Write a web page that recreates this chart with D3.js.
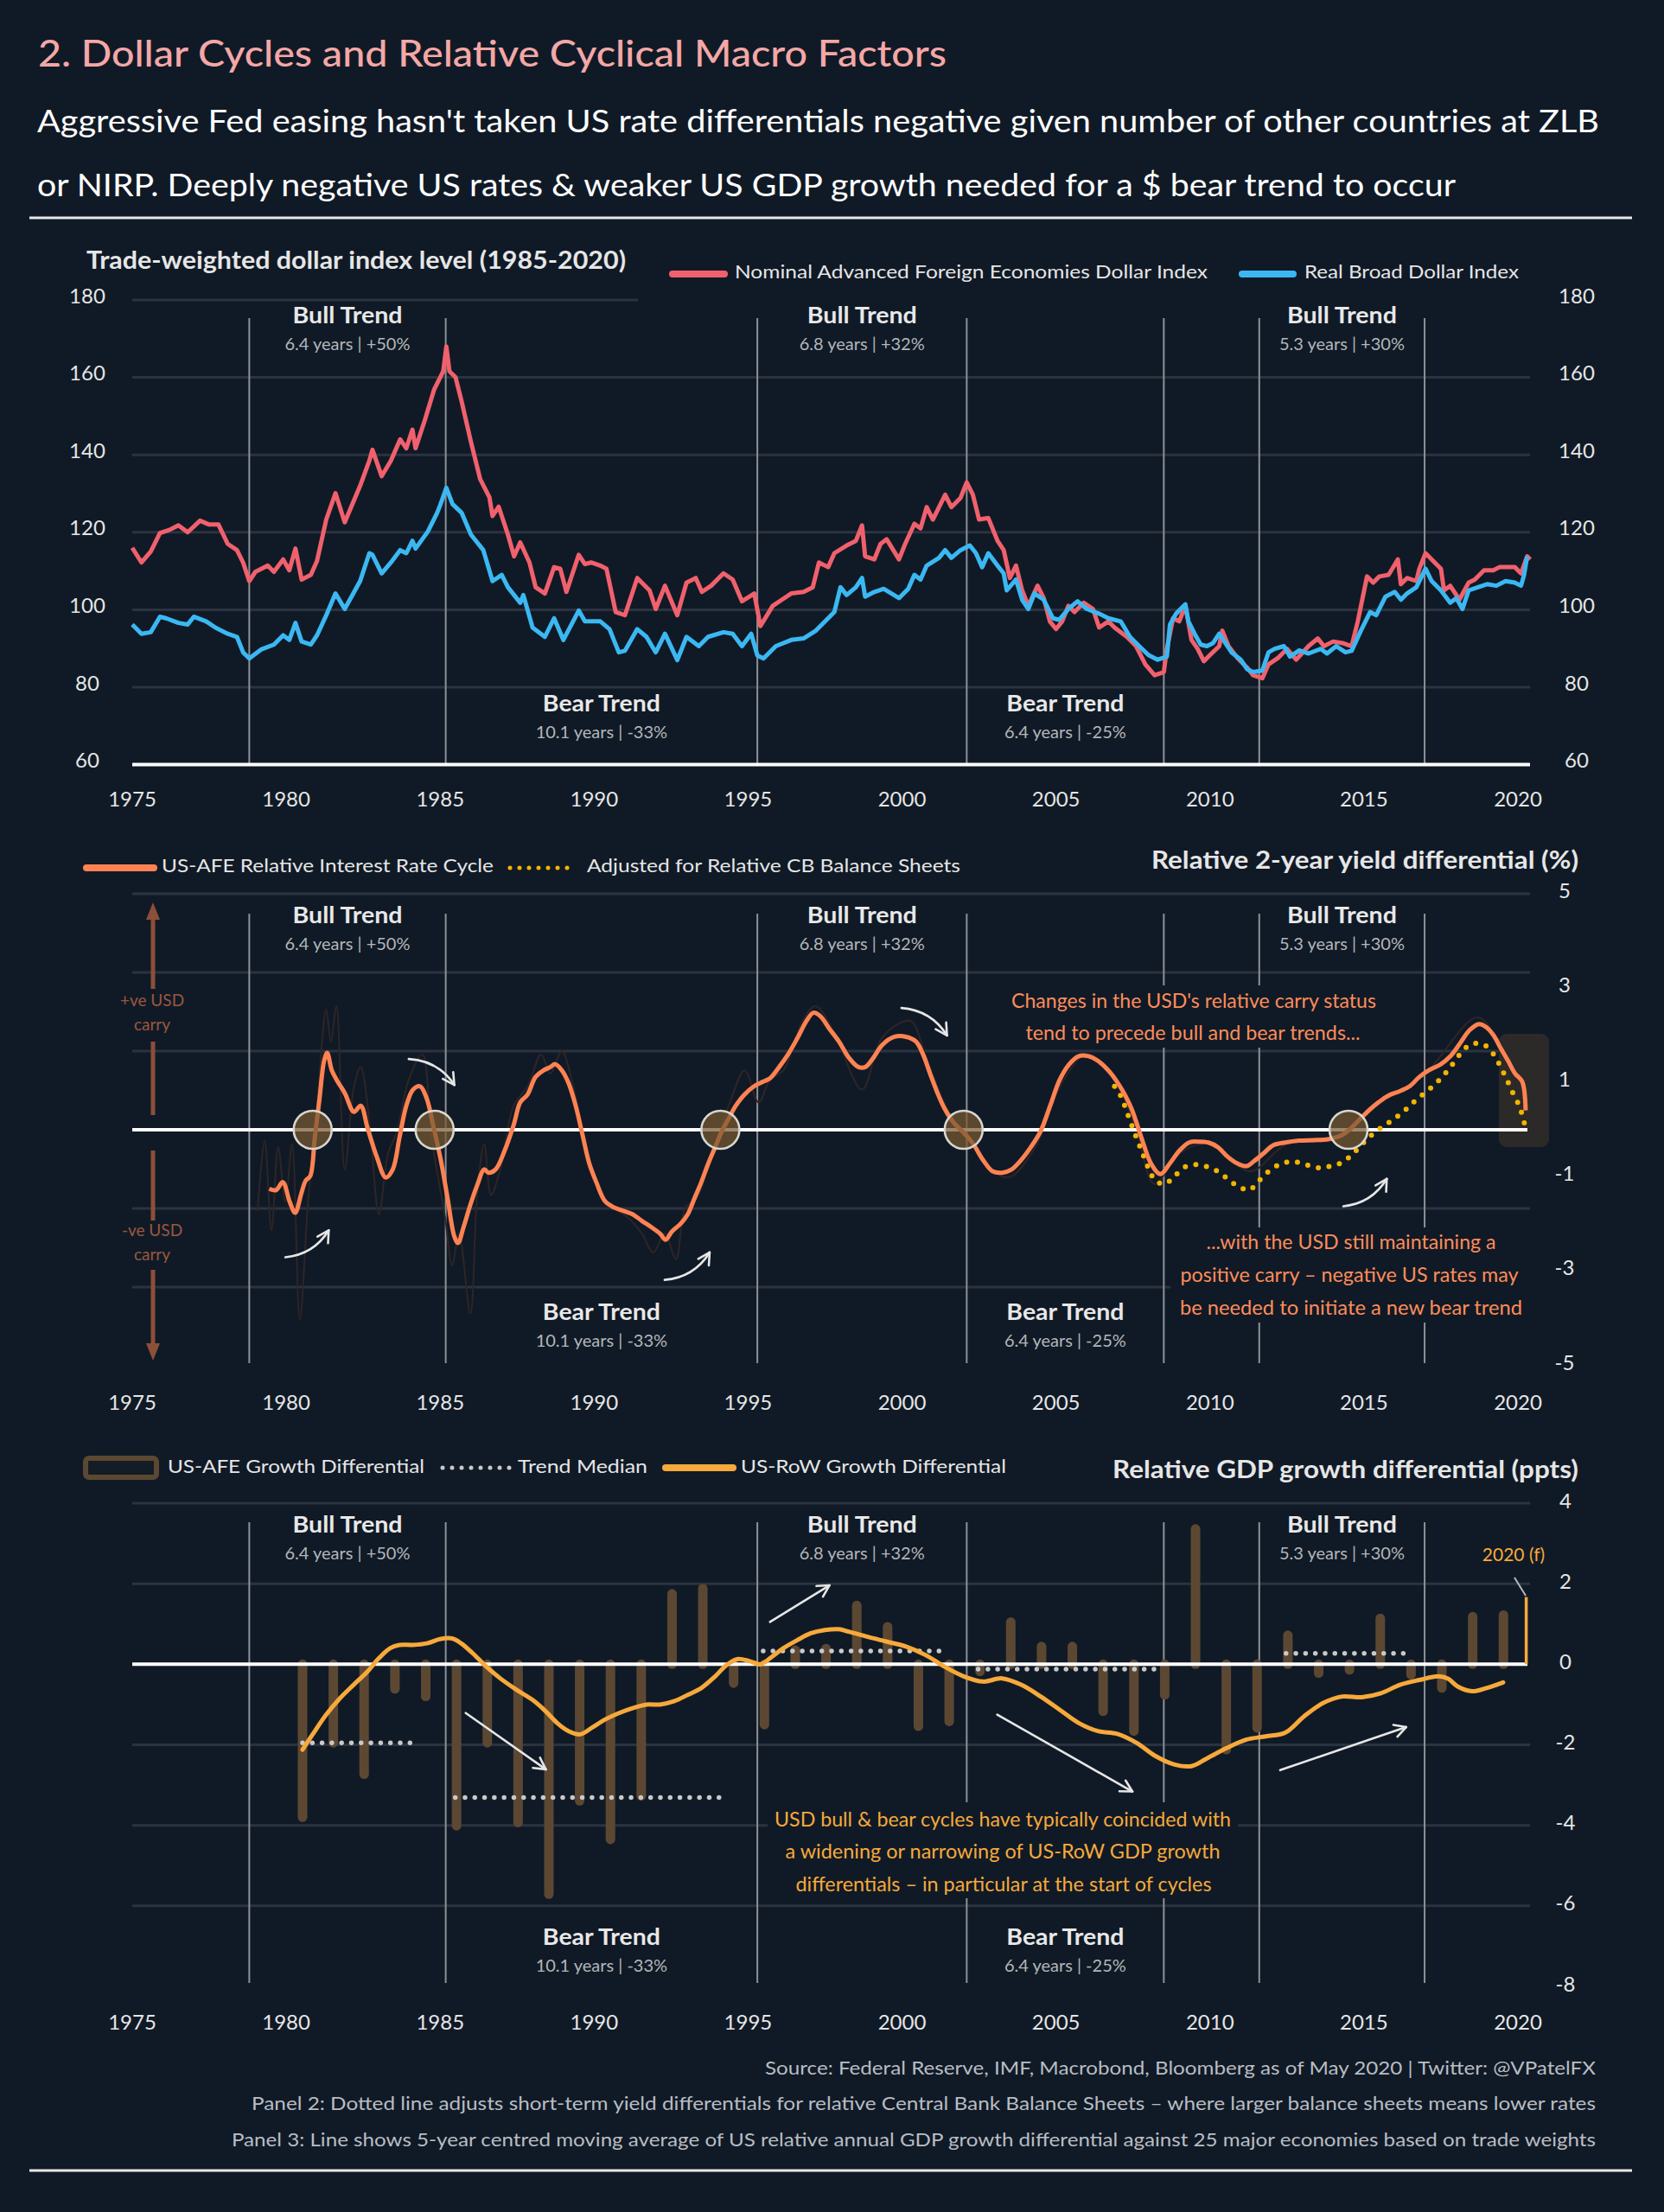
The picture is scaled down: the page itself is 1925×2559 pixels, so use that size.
<!DOCTYPE html>
<html><head><meta charset="utf-8">
<script src="https://cdn.jsdelivr.net/npm/d3@7"></script>
<style>body{margin:0;background:#101a26}</style>
</head><body><svg id="c" width="1925" height="2559"></svg>
<script>
// ---------- DATA ----------
const years = [1975,1980,1985,1990,1995,2000,2005,2010,2015,2020];
const p1Ticks = [180,160,140,120,100,80,60];
const p2Ticks = [5,3,1,-1,-3,-5];
const p3Ticks = [4,2,0,-2,-4,-6,-8];

const cycleDates = [1978.8,1985.18,1995.3,2002.1,2008.5,2011.6,2016.97];
const cycleNames = ["Bull Trend","Bear Trend","Bull Trend","Bear Trend","Bull Trend"];
const cycleStats = ["6.4 years | +50%","10.1 years | -33%","6.8 years | +32%","6.4 years | -25%","5.3 years | +30%"];
const cycleStart = [1978.8,1985.18,1995.3,2002.1,2011.6];
const cycleEnd   = [1985.18,1995.3,2002.1,2008.5,2016.97];

// Panel 1: Nominal AFE dollar index
const nomT = [1975.0,1975.3,1975.6,1975.9,1976.2,1976.5,1976.8,1977.2,1977.5,1977.8,1978.1,1978.4,1978.6,1978.8,1979.0,1979.4,1979.6,1979.9,1980.1,1980.3,1980.5,1980.8,1981.0,1981.3,1981.6,1981.9,1982.4,1982.7,1982.8,1983.1,1983.4,1983.7,1983.9,1984.1,1984.2,1984.5,1984.8,1985.1,1985.2,1985.3,1985.5,1985.7,1986.0,1986.3,1986.6,1986.7,1986.9,1987.2,1987.4,1987.6,1987.9,1988.1,1988.4,1988.7,1988.9,1989.1,1989.5,1989.7,1989.9,1990.2,1990.4,1990.7,1991.0,1991.4,1991.8,1992.0,1992.3,1992.7,1993.0,1993.3,1993.5,1993.8,1994.2,1994.5,1994.8,1995.2,1995.4,1995.8,1996.1,1996.4,1996.8,1997.1,1997.3,1997.6,1997.8,1998.2,1998.5,1998.7,1998.8,1999.1,1999.3,1999.5,1999.9,2000.1,2000.4,2000.6,2000.8,2001.0,2001.4,2001.6,2001.9,2002.1,2002.3,2002.5,2002.8,2003.1,2003.3,2003.5,2003.7,2003.9,2004.1,2004.4,2004.6,2004.8,2005.0,2005.2,2005.4,2005.6,2005.9,2006.2,2006.4,2006.7,2006.9,2007.3,2007.6,2007.9,2008.2,2008.5,2008.6,2008.8,2009.0,2009.2,2009.4,2009.6,2009.8,2010.0,2010.3,2010.4,2010.6,2010.9,2011.2,2011.4,2011.7,2011.9,2012.2,2012.5,2012.8,2013.2,2013.5,2013.7,2014.0,2014.3,2014.6,2014.8,2015.1,2015.3,2015.5,2015.8,2016.1,2016.2,2016.4,2016.7,2016.8,2017.0,2017.2,2017.5,2017.6,2017.8,2018.1,2018.4,2018.6,2018.9,2019.2,2019.4,2019.6,2019.9,2020.1,2020.3,2020.4];
const nomV = [116,112.2,115,119.8,120.6,121.8,120,123,122,122,117,115.4,112.2,107.4,109.8,111.4,109.8,113,110.2,115.8,107.8,109,112.6,123.3,130.1,122.6,132,138.5,141.3,134.5,138.5,144,141.7,146.5,141.7,148.9,156.8,161.6,168,161.6,160,153.7,143.3,133.7,129,124.2,126.6,119.4,113.8,117.4,112.2,105.8,104.2,111,110.6,104.6,114.2,111.8,112.2,111.4,110.6,99.4,98.6,108.2,105,100.2,106.2,98.6,107,108.2,104.6,106.2,109.4,107.8,102.2,104.2,95.8,101,102.6,104.2,104.6,105.8,112.2,111,114.6,116.6,117.8,121.8,113.8,113,117,118.2,113,117,122.2,121,126.5,123.3,129.7,126.5,128.9,132.9,129.7,123.3,123.7,117.8,115.4,108.2,111.4,105,101,106.2,103,97,95,97,101,99.4,101.8,100.2,95.4,97,95.4,93,90.6,85.9,83.1,83.9,89.9,97.8,97,101,92.2,89.9,86.7,88.3,90.6,94.6,90.6,87.5,85.1,83.1,82.3,85.9,87.5,89.9,87.1,90.6,92.6,90.6,91.8,91.4,90.6,97,108.6,107,108.6,109,113,106.6,108.2,107.4,110.6,114.6,113,110.6,105,106.2,102.6,107,107.8,110.2,110.2,111,111,111,109.4,113.8,113];

// Panel 1: Real broad dollar index
const realT = [1975.0,1975.3,1975.6,1975.9,1976.1,1976.5,1976.8,1977.0,1977.4,1977.7,1978.1,1978.4,1978.6,1978.8,1979.2,1979.6,1979.9,1980.1,1980.3,1980.5,1980.8,1981.0,1981.3,1981.6,1981.9,1982.4,1982.7,1982.8,1983.1,1983.4,1983.7,1983.9,1984.1,1984.2,1984.6,1984.9,1985.0,1985.2,1985.4,1985.7,1986.0,1986.4,1986.7,1987.0,1987.2,1987.6,1987.7,1988.0,1988.4,1988.7,1989.0,1989.5,1989.7,1990.2,1990.5,1990.8,1991.0,1991.4,1991.7,1992.0,1992.3,1992.7,1993.0,1993.4,1993.7,1994.2,1994.5,1994.8,1995.1,1995.3,1995.5,1995.9,1996.4,1996.8,1997.2,1997.6,1997.8,1998.0,1998.2,1998.5,1998.7,1998.8,1999.1,1999.4,1999.9,2000.2,2000.4,2000.6,2000.8,2001.2,2001.4,2001.6,2001.9,2002.2,2002.4,2002.6,2002.8,2003.1,2003.3,2003.4,2003.7,2003.9,2004.1,2004.3,2004.6,2004.9,2005.1,2005.4,2005.7,2006.0,2006.4,2006.7,2007.1,2007.4,2007.7,2008.0,2008.3,2008.6,2008.7,2008.9,2009.2,2009.3,2009.5,2009.7,2009.9,2010.1,2010.3,2010.5,2010.7,2011.0,2011.2,2011.4,2011.7,2011.9,2012.1,2012.4,2012.6,2012.9,2013.2,2013.6,2013.8,2014.1,2014.4,2014.6,2014.9,2015.2,2015.4,2015.7,2016.0,2016.2,2016.4,2016.7,2017.0,2017.2,2017.5,2017.8,2018.0,2018.2,2018.4,2018.7,2019.0,2019.3,2019.6,2019.9,2020.1,2020.2,2020.3];
const realV = [96.2,93.8,94.2,98.2,97.8,96.6,96.2,98.2,97,95.4,93.8,93,89,87.4,89.8,91,93.4,92.2,96.6,91.8,91,93.4,98.6,104.2,100.2,107.4,114.6,114.2,109.4,112.2,115.4,114.6,117.8,115.8,120.2,125,127,131.5,127.3,125,119.4,115.4,107.4,109,105.8,101.8,103.8,95.4,93,97.8,92.2,99.8,97,97,95,89,89.4,95,93,89,93.8,87,93,90.6,93,94.2,93.8,90.6,93.8,88.2,87.4,90.6,92.2,92.6,94.6,97.8,99.4,105.8,103.8,105.8,108.2,103.4,104.6,105.4,103,105.4,109,107.8,111.4,113.4,115.4,113.4,115.4,116.6,114.6,111,114.6,111.4,109.4,105,107.8,102.6,100.2,104.2,102.6,97.8,97.4,100.2,102.2,100.2,99,97.8,97,93,90.6,88.3,87.1,87.9,96.2,99,101.4,97,93.8,91,90.6,91.4,93.8,91.4,89,87.1,84.7,83.9,84.3,89,89.9,90.6,87.9,89.5,88.7,89.9,88.7,90.6,89,89.4,94.6,99.4,98.6,103.4,104.6,102.6,104.2,105.8,110.6,107.4,105,101.8,103,100.2,105,105.8,106.6,106.2,107.4,107,106.2,109,113.8];

// Panel 2: US-AFE relative 2y yield differential (smoothed)
const rateT = [1979.45,1979.67,1979.89,1980.11,1980.29,1980.49,1980.63,1980.78,1980.93,1981.08,1981.23,1981.33,1981.48,1981.67,1981.9,1982.2,1982.42,1982.64,1982.94,1983.23,1983.46,1983.68,1983.9,1984.12,1984.35,1984.57,1984.79,1985.02,1985.24,1985.46,1985.58,1985.76,1985.98,1986.2,1986.43,1986.57,1986.8,1987.1,1987.39,1987.6,1987.84,1988.1,1988.36,1988.58,1988.73,1988.95,1989.17,1989.4,1989.62,1989.84,1990.07,1990.36,1990.66,1990.96,1991.25,1991.55,1991.85,1992.14,1992.32,1992.52,1992.81,1993.04,1993.26,1993.48,1993.71,1993.93,1994.15,1994.37,1994.6,1994.89,1995.19,1995.49,1995.71,1996.01,1996.3,1996.6,1996.9,1997.12,1997.34,1997.64,1997.95,1998.27,1998.58,1998.81,1999.04,1999.36,1999.75,2000.13,2000.45,2000.68,2000.91,2001.15,2001.38,2001.69,2002.0,2002.31,2002.63,2002.94,2003.25,2003.56,2003.87,2004.18,2004.5,2004.81,2005.12,2005.43,2005.74,2006.05,2006.36,2006.75,2007.14,2007.45,2007.77,2008.08,2008.39,2008.7,2009.01,2009.32,2009.63,2009.95,2010.26,2010.57,2010.88,2011.19,2011.42,2011.74,2012.05,2012.44,2012.9,2013.37,2013.84,2014.23,2014.54,2014.85,2015.16,2015.47,2015.78,2016.17,2016.48,2016.8,2017.11,2017.5,2017.81,2018.12,2018.43,2018.74,2018.98,2019.21,2019.44,2019.68,2019.91,2020.14,2020.25];
const rateV = [-1.25,-1.28,-1.11,-1.52,-1.76,-1.35,-1.08,-0.98,-0.16,0.65,1.46,1.63,1.26,1.02,0.78,0.38,0.51,0.04,-0.57,-1.01,-0.84,-0.16,0.51,0.85,0.92,0.65,0.04,-0.64,-1.45,-2.26,-2.4,-2.06,-1.59,-1.18,-0.84,-0.91,-0.84,-0.43,0.11,0.58,0.75,1.12,1.26,1.33,1.39,1.26,0.99,0.51,-0.1,-0.71,-1.11,-1.52,-1.65,-1.72,-1.79,-1.93,-2.06,-2.2,-2.33,-2.16,-1.99,-1.79,-1.45,-1.11,-0.71,-0.37,-0.03,0.24,0.51,0.75,0.92,1.02,1.09,1.33,1.6,1.94,2.31,2.48,2.41,2.14,1.87,1.53,1.33,1.33,1.5,1.8,1.97,1.97,1.87,1.6,1.19,0.78,0.45,0.14,-0.06,-0.3,-0.64,-0.88,-0.91,-0.84,-0.64,-0.37,-0.03,0.51,1.06,1.39,1.56,1.56,1.46,1.22,0.85,0.45,-0.16,-0.71,-0.94,-0.71,-0.44,-0.27,-0.25,-0.27,-0.37,-0.57,-0.71,-0.77,-0.67,-0.5,-0.33,-0.27,-0.23,-0.22,-0.2,-0.13,0.01,0.21,0.41,0.58,0.72,0.82,0.92,1.12,1.26,1.39,1.56,1.83,2.11,2.24,2.17,2.0,1.73,1.46,1.19,1.02,0.41];

// Panel 2: adjusted for relative CB balance sheets
const adjT = [2006.9,2007.1,2007.3,2007.53,2007.77,2008.0,2008.23,2008.54,2008.85,2009.24,2009.63,2010.02,2010.33,2010.64,2010.96,2011.27,2011.5,2011.74,2012.05,2012.36,2012.67,2012.98,2013.29,2013.6,2013.92,2014.23,2014.54,2014.85,2015.16,2015.55,2015.94,2016.33,2016.72,2017.11,2017.5,2017.81,2018.12,2018.43,2018.66,2018.9,2019.13,2019.36,2019.6,2019.83,2020.04,2020.14,2020.22];
const adjV = [0.92,0.72,0.38,-0.03,-0.43,-0.81,-1.08,-1.15,-0.98,-0.77,-0.74,-0.81,-0.91,-1.08,-1.21,-1.28,-1.15,-0.98,-0.81,-0.71,-0.67,-0.71,-0.77,-0.81,-0.77,-0.71,-0.57,-0.37,-0.16,0.04,0.21,0.41,0.65,0.85,1.09,1.33,1.6,1.8,1.83,1.8,1.67,1.43,1.12,0.79,0.51,0.31,0.11];

// Panel 2: raw (unsmoothed) differential, faint
const rawT = [1979.07,1979.3,1979.52,1979.74,1979.97,1980.19,1980.44,1980.71,1981.0,1981.3,1981.45,1981.63,1981.9,1982.2,1982.42,1982.71,1983.01,1983.31,1983.6,1983.98,1984.42,1984.72,1985.16,1985.39,1985.61,1985.98,1986.2,1986.43,1986.65,1986.95,1987.39,1987.84,1988.28,1988.58,1988.95,1989.32,1989.77,1990.36,1991.1,1991.55,1991.92,1992.29,1992.66,1992.96,1993.33,1993.78,1994.37,1994.89,1995.34,1995.71,1996.15,1996.75,1997.19,1997.79,1998.7,1999.3,1999.9,2000.3,2000.8,2001.5,2002.3,2003.0,2003.5,2004.3,2005.2,2006.0,2006.8,2007.6,2008.2,2009.0,2010.0,2011.3,2012.5,2014.0,2015.5,2017.0,2018.7,2019.5,2020.2];
const rawV = [-1.72,-0.23,-2.13,-0.37,-1.52,-0.3,-4.02,-1.52,0.51,2.55,1.87,2.62,-0.84,0.92,1.33,0.11,-1.79,-0.5,-0.03,1.06,1.6,-0.16,-1.86,-2.87,-2.2,-3.89,-1.38,-0.3,-1.38,-0.84,0.51,0.92,1.6,1.19,1.66,0.92,-0.5,-1.52,-1.86,-2.2,-2.6,-2.2,-2.74,-1.65,-1.45,-0.57,0.51,1.26,0.58,1.06,1.26,2.28,2.62,2.07,0.85,1.9,2.25,2.3,1.5,0.4,-0.3,-0.9,-1.0,-0.4,1.0,1.6,1.2,0.0,-1.15,-0.5,-0.3,-0.88,-0.3,-0.2,0.55,1.2,2.38,1.6,0.4];

const crossYears = [1980.86,1984.82,1994.1,2002.0,2014.5];

// Panel 3: US-AFE annual growth differential (bars)
const barYears = [1980,1981,1982,1983,1984,1985,1986,1987,1988,1989,1990,1991,1992,1993,1994,1995,1996,1997,1998,1999,2000,2001,2002,2003,2004,2005,2006,2007,2008,2009,2010,2011,2012,2013,2014,2015,2016,2017,2018,2019];
const barVals  = [-3.80,-1.95,-2.73,-0.61,-0.80,-4.01,-1.95,-3.93,-5.71,-3.39,-4.35,-3.27,1.75,1.88,-0.47,-1.50,0.35,0.39,1.46,0.93,-1.54,-1.42,-0.18,1.05,0.44,0.44,-1.17,-1.66,-0.76,3.36,-2.12,-1.58,0.72,-0.22,-0.14,1.14,-0.26,-0.59,1.18,1.22];
const forecastYear = 2020, forecastVal = 1.67;

// Panel 3: US-RoW 5y centred MA
const rowT = [1980.53,1980.86,1981.3,1981.75,1982.19,1982.64,1983.01,1983.38,1983.68,1984.12,1984.57,1985.02,1985.39,1985.68,1986.06,1986.5,1986.95,1987.47,1987.99,1988.43,1988.8,1989.17,1989.55,1989.92,1990.36,1990.81,1991.25,1991.7,1992.14,1992.59,1993.04,1993.48,1993.93,1994.3,1994.67,1995.04,1995.41,1995.78,1996.15,1996.6,1997.04,1997.49,1997.94,1998.27,1998.89,1999.51,2000.13,2000.76,2001.38,2002.0,2002.63,2003.25,2003.87,2004.5,2005.12,2005.74,2006.36,2006.99,2007.61,2008.23,2008.85,2009.4,2009.94,2010.57,2011.19,2011.81,2012.44,2013.06,2013.68,2014.3,2014.93,2015.55,2016.17,2016.8,2017.42,2017.73,2018.04,2018.51,2018.98,2019.52];
const rowV = [-2.12,-1.74,-1.25,-0.84,-0.51,-0.18,0.15,0.4,0.48,0.48,0.52,0.63,0.64,0.52,0.27,-0.06,-0.35,-0.63,-0.88,-1.17,-1.46,-1.66,-1.74,-1.58,-1.37,-1.21,-1.09,-1.0,-1.0,-0.92,-0.76,-0.59,-0.3,-0.02,0.13,0.08,0.0,0.19,0.4,0.6,0.77,0.85,0.87,0.81,0.68,0.56,0.44,0.23,-0.06,-0.3,-0.43,-0.35,-0.51,-0.8,-1.13,-1.46,-1.66,-1.73,-1.95,-2.28,-2.49,-2.53,-2.32,-2.07,-1.87,-1.79,-1.7,-1.29,-0.96,-0.8,-0.82,-0.72,-0.51,-0.39,-0.3,-0.36,-0.55,-0.67,-0.59,-0.45];

// Panel 3: trend medians
const medStart = [1980.53,1985.49,1995.49,2002.47,2012.47];
const medEnd   = [1984.3,1994.25,2001.46,2008.47,2016.3];
const medVal   = [-1.95,-3.31,0.33,-0.12,0.27];

// ---------- CHART ----------
const W=1925,H=2559,BG='#101a26',GRID='#2a333f',VLINE='#8d9196';
const FF='Lato, "Noto Sans", sans-serif';
const svg=d3.select('#c');
svg.append('rect').attr('width',W).attr('height',H).attr('fill',BG);

const x=d3.scaleLinear().domain([1975,2020]).range([153,1756]);
const XR=1770;
const y1=d3.scaleLinear().domain([60,180]).range([884.6,347]);
const y2=d3.scaleLinear().domain([-5,5]).range([1580,1034]);
const y3=d3.scaleLinear().domain([-8,4]).range([2298,1739]);

function txt(g,s,px,py,o){
  const t=g.append('text').attr('x',px).attr('y',py).text(s)
    .attr('font-family',FF).attr('font-size',o.fs||21).attr('fill',o.c||'#e6e6e6')
    .attr('text-anchor',o.a||'start').attr('font-weight',o.w||400)
    .attr('dominant-baseline',o.db||'central');
  if(o.len){t.attr('textLength',o.len).attr('lengthAdjust','spacingAndGlyphs');}
  return t;
}
function rectBg(g,x0,y0,x1,yy1){g.append('rect').attr('x',x0).attr('y',y0).attr('width',x1-x0).attr('height',yy1-y0).attr('fill',BG);}

// Header
txt(svg,"2. Dollar Cycles and Relative Cyclical Macro Factors",44,77,{fs:42,c:'#f4a7a6',w:500,db:'alphabetic',len:1051});
txt(svg,"Aggressive Fed easing hasn't taken US rate differentials negative given number of other countries at ZLB",43,153,{fs:37,c:'#ffffff',db:'alphabetic',len:1807});
txt(svg,"or NIRP. Deeply negative US rates & weaker US GDP growth needed for a $ bear trend to occur",43,227,{fs:37,c:'#ffffff',db:'alphabetic',len:1641});
svg.append('line').attr('x1',34).attr('x2',1888).attr('y1',252).attr('y2',252).attr('stroke','#e8e8e8').attr('stroke-width',3);
svg.append('line').attr('x1',34).attr('x2',1888).attr('y1',2511).attr('y2',2511).attr('stroke','#e8e8e8').attr('stroke-width',3);

// common: cycle lines + labels
function cycles(g,ys,top,bot,bullY,bearY){
  cycleDates.forEach(d=>g.append('line').attr('x1',x(d)).attr('x2',x(d)).attr('y1',top).attr('y2',bot).attr('stroke',VLINE).attr('stroke-width',2));
  cycleNames.forEach((n,i)=>{
    const cx=x((cycleStart[i]+cycleEnd[i])/2);
    const yy=n.startsWith('Bull')?bullY:bearY;
    txt(g,n,cx,yy,{fs:27,w:700,c:'#e8e8e8',a:'middle',len:n.startsWith('Bull')?127:136});
    txt(g,cycleStats[i],cx,yy+34,{fs:20,c:'#b3b6ba',a:'middle'});
  });
}
function xLabels(g,yy){years.forEach(v=>txt(g,String(v),x(v),yy,{fs:24,c:'#e6e6e6',a:'middle'}));}
function hgrid(g,vals,sc){vals.forEach(v=>g.append('line').attr('x1',153).attr('x2',XR).attr('y1',sc(v)).attr('y2',sc(v)).attr('stroke',GRID).attr('stroke-width',3));}

// ---------- PANEL 1 ----------
const g1=svg.append('g');
hgrid(g1,[180,160,140,120,100,80],y1);
rectBg(g1,738,285,1780,355);
txt(g1,"Trade-weighted dollar index level  (1985-2020)",100,300,{fs:28,w:700,c:'#e6e6e6',len:624});
g1.append('line').attr('x1',778).attr('x2',838).attr('y1',317).attr('y2',317).attr('stroke','#f0616d').attr('stroke-width',8).attr('stroke-linecap','round');
txt(g1,"Nominal Advanced Foreign Economies Dollar Index",850,313,{fs:21,len:547});
g1.append('line').attr('x1',1437).attr('x2',1496).attr('y1',317).attr('y2',317).attr('stroke','#3bb8f2').attr('stroke-width',8).attr('stroke-linecap','round');
txt(g1,"Real Broad Dollar Index",1509,313,{fs:21,len:248});
p1Ticks.forEach(v=>{txt(g1,String(v),101,y1(v)-6,{fs:24,a:'middle'});txt(g1,String(v),1824,y1(v)-6,{fs:24,a:'middle'});});
cycles(g1,y1,368,884,363,812);
const lineP1=d3.line().x(d=>x(d[0])).y(d=>y1(d[1])).curve(d3.curveLinear);
g1.append('path').attr('d',lineP1(d3.zip(nomT,nomV))).attr('fill','none').attr('stroke','#f0616d').attr('stroke-width',5).attr('stroke-linejoin','round');
g1.append('path').attr('d',lineP1(d3.zip(realT,realV))).attr('fill','none').attr('stroke','#3bb8f2').attr('stroke-width',5).attr('stroke-linejoin','round');
g1.append('line').attr('x1',153).attr('x2',XR).attr('y1',y1(60)).attr('y2',y1(60)).attr('stroke','#ffffff').attr('stroke-width',4);
xLabels(g1,923);

// ---------- arrows helpers ----------
function curvedArrow(g,sx,sy,ex,ey,k,col){
  const dx=ex-sx,dy=ey-sy,L=Math.hypot(dx,dy);
  const nx=-dy/L,ny=dx/L;
  const cx=(sx+ex)/2+k*L*nx, cy=(sy+ey)/2+k*L*ny;
  g.append('path').attr('d',`M${sx},${sy}Q${cx},${cy} ${ex},${ey}`).attr('fill','none').attr('stroke',col).attr('stroke-width',2.6).attr('stroke-linecap','round');
  head(g,ex,ey,ex-cx,ey-cy,col);
}
function head(g,ex,ey,tx,ty,col){
  const a=Math.atan2(ty,tx),len=15;
  [0.5,-0.5].forEach(o=>{g.append('line').attr('x1',ex).attr('y1',ey).attr('x2',ex-len*Math.cos(a+o)).attr('y2',ey-len*Math.sin(a+o)).attr('stroke',col).attr('stroke-width',2.6).attr('stroke-linecap','round');});
}
function straightArrow(g,sx,sy,ex,ey,col){
  g.append('line').attr('x1',sx).attr('y1',sy).attr('x2',ex).attr('y2',ey).attr('stroke',col).attr('stroke-width',2.6).attr('stroke-linecap','round');
  head(g,ex,ey,ex-sx,ey-sy,col);
}

// ---------- PANEL 2 ----------
const g2=svg.append('g');
const p2Grid=d3.range(6).map(i=>5-i*10/6).filter(v=>Math.abs(v)>0.01);
hgrid(g2,p2Grid,y2);
g2.append('line').attr('x1',100).attr('x2',178).attr('y1',1004).attr('y2',1004).attr('stroke','#ff8352').attr('stroke-width',8).attr('stroke-linecap','round');
txt(g2,"US-AFE Relative Interest Rate Cycle",187,1000,{fs:21,len:384});
g2.append('line').attr('x1',590).attr('x2',662).attr('y1',1004).attr('y2',1004).attr('stroke','#f2b500').attr('stroke-width',5).attr('stroke-linecap','round').attr('stroke-dasharray','0 11');
txt(g2,"Adjusted for Relative CB Balance Sheets",679,1000,{fs:21,len:432});
txt(g2,"Relative 2-year yield differential  (%)",1826,994,{fs:28,w:700,a:'end',len:494});
p2Ticks.forEach(v=>txt(g2,String(v),1810,y2(v)-5,{fs:24,a:'middle'}));
cycles(g2,y2,1057,1577,1057,1516);
const BR='#8c4f3a';
g2.append('line').attr('x1',177).attr('x2',177).attr('y1',1060).attr('y2',1144).attr('stroke',BR).attr('stroke-width',5);
g2.append('path').attr('d','M177,1044 L169,1064 L185,1064 Z').attr('fill',BR);
g2.append('line').attr('x1',177).attr('x2',177).attr('y1',1205).attr('y2',1290).attr('stroke',BR).attr('stroke-width',5);
g2.append('line').attr('x1',177).attr('x2',177).attr('y1',1331).attr('y2',1412).attr('stroke',BR).attr('stroke-width',5);
g2.append('line').attr('x1',177).attr('x2',177).attr('y1',1469).attr('y2',1556).attr('stroke',BR).attr('stroke-width',5);
g2.append('path').attr('d','M177,1574 L169,1554 L185,1554 Z').attr('fill',BR);
txt(g2,"+ve USD",176,1156,{fs:19,c:'#9b5740',a:'middle'});
txt(g2,"carry",176,1184,{fs:19,c:'#9b5740',a:'middle'});
txt(g2,"-ve USD",176,1422,{fs:19,c:'#9b5740',a:'middle'});
txt(g2,"carry",176,1450,{fs:19,c:'#9b5740',a:'middle'});
g2.append('rect').attr('x',1734).attr('y',1196).attr('width',58).attr('height',131).attr('rx',9).attr('fill','#2b2a28');
rectBg(g2,1160,1140,1600,1212);
txt(g2,"Changes in the USD's relative carry status",1381,1157,{fs:23,c:'#ff8c5a',a:'middle',len:422});
txt(g2,"tend to precede bull and bear trends...",1380,1194,{fs:23,c:'#ff8c5a',a:'middle',len:387});
rectBg(g2,1354,1420,1772,1530);
txt(g2,"...with the USD still maintaining a",1563,1436,{fs:23,c:'#ff8c5a',a:'middle',len:335});
txt(g2,"positive carry \u2013 negative US rates may",1561,1474,{fs:23,c:'#ff8c5a',a:'middle',len:391});
txt(g2,"be needed to initiate a new bear trend",1563,1512,{fs:23,c:'#ff8c5a',a:'middle',len:396});
const lineP2=d3.line().x(d=>x(d[0])).y(d=>y2(d[1]));
g2.append('path').attr('d',lineP2.curve(d3.curveCatmullRom)(d3.zip(rawT,rawV))).attr('fill','none').attr('stroke','#2e2527').attr('stroke-width',2);
g2.append('line').attr('x1',153).attr('x2',1767).attr('y1',y2(0)).attr('y2',y2(0)).attr('stroke','#ffffff').attr('stroke-width',4);
g2.append('path').attr('d',lineP2.curve(d3.curveCatmullRom)(d3.zip(adjT,adjV))).attr('fill','none').attr('stroke','#f2b500').attr('stroke-width',6).attr('stroke-linecap','round').attr('stroke-dasharray','0 12.5');
g2.append('path').attr('d',lineP2.curve(d3.curveCatmullRom)(d3.zip(rateT,rateV))).attr('fill','none').attr('stroke','#ff8352').attr('stroke-width',5).attr('stroke-linejoin','round');
crossYears.forEach(c=>g2.append('circle').attr('cx',x(c)).attr('cy',y2(0)).attr('r',22).attr('fill','rgba(120,90,50,0.72)').attr('stroke','#d8d6cf').attr('stroke-width',2.6));
const AW='#e6e6e6';
[[1979.97,-2.70,1981.38,-2.13,0.25],[1983.98,1.50,1985.46,0.95,-0.25],[1992.29,-3.18,1993.75,-2.60,0.25],[1999.98,2.58,2001.46,2.0,-0.25],[2014.33,-1.62,2015.74,-1.04,0.25]]
  .forEach(a=>curvedArrow(g2,x(a[0]),y2(a[1]),x(a[2]),y2(a[3]),a[4],AW));
xLabels(g2,1621);

// ---------- PANEL 3 ----------
const g3=svg.append('g');
hgrid(g3,[4,2,-2,-4,-6],y3);
g3.append('rect').attr('x',99).attr('y',1687).attr('width',82).attr('height',22).attr('rx',4).attr('fill','#141c26').attr('stroke','#5c4832').attr('stroke-width',6);
txt(g3,"US-AFE Growth Differential",194,1695,{fs:21,len:297});
g3.append('line').attr('x1',512).attr('x2',590).attr('y1',1698).attr('y2',1698).attr('stroke','#c9c9c9').attr('stroke-width',5).attr('stroke-linecap','round').attr('stroke-dasharray','0 11');
txt(g3,"Trend Median",599,1695,{fs:21,len:150});
g3.append('line').attr('x1',770).attr('x2',848).attr('y1',1698).attr('y2',1698).attr('stroke','#f7a93b').attr('stroke-width',8).attr('stroke-linecap','round');
txt(g3,"US-RoW Growth Differential",857,1695,{fs:21,len:307});
txt(g3,"Relative GDP growth differential  (ppts)",1826,1699,{fs:28,w:700,a:'end',len:539});
p3Ticks.forEach(v=>txt(g3,String(v),1811,y3(v)-4,{fs:24,a:'middle'}));
cycles(g3,y3,1761,2294,1762,2239);
rectBg(g3,888,2085,1432,2196);
txt(g3,"USD bull & bear cycles have typically coincided with",1160,2104,{fs:23,c:'#f7a93b',a:'middle',len:528});
txt(g3,"a widening or narrowing of US-RoW GDP growth",1160,2141,{fs:23,c:'#f7a93b',a:'middle',len:503});
txt(g3,"differentials \u2013 in particular at the start of cycles",1161,2179,{fs:23,c:'#f7a93b',a:'middle',len:481});
barYears.forEach((yr,i)=>g3.append('line').attr('x1',x(yr+0.53)).attr('x2',x(yr+0.53)).attr('y1',y3(0)).attr('y2',y3(barVals[i])).attr('stroke','#5c4832').attr('stroke-width',11).attr('stroke-linecap','round'));
g3.append('line').attr('x1',153).attr('x2',1767).attr('y1',y3(0)).attr('y2',y3(0)).attr('stroke','#ffffff').attr('stroke-width',4);
g3.append('line').attr('x1',x(forecastYear+0.27)).attr('x2',x(forecastYear+0.27)).attr('y1',y3(0)).attr('y2',y3(forecastVal)).attr('stroke','#f7a93b').attr('stroke-width',3.5);
txt(g3,"2020 (f)",1751,1797,{fs:21,c:'#f7a93b',a:'middle'});
g3.append('line').attr('x1',1752).attr('y1',1825).attr('x2',1765).attr('y2',1846).attr('stroke','#b8b8b8').attr('stroke-width',2);
medStart.forEach((s,i)=>g3.append('line').attr('x1',x(s)).attr('x2',x(medEnd[i])).attr('y1',y3(medVal[i])).attr('y2',y3(medVal[i])).attr('stroke','#c9c9c9').attr('stroke-width',5.5).attr('stroke-linecap','round').attr('stroke-dasharray','0 11.3'));
g3.append('path').attr('d',d3.line().x(d=>x(d[0])).y(d=>y3(d[1])).curve(d3.curveCatmullRom)(d3.zip(rowT,rowV))).attr('fill','none').attr('stroke','#f7a93b').attr('stroke-width',5).attr('stroke-linecap','round');
[[1985.83,-1.21,1988.43,-2.61],[1995.71,1.05,1997.64,1.96],[2003.09,-1.25,2007.48,-3.16],[2012.28,-2.63,2016.37,-1.56]]
  .forEach(a=>straightArrow(g3,x(a[0]),y3(a[1]),x(a[2]),y3(a[3]),AW));
xLabels(g3,2338);

// ---------- Footnotes ----------
txt(svg,"Source: Federal Reserve, IMF, Macrobond, Bloomberg as of May 2020 | Twitter: @VPatelFX",1846,2391,{fs:21,c:'#b9bdc3',a:'end',len:961});
txt(svg,"Panel 2: Dotted line adjusts short-term yield differentials for relative Central Bank Balance Sheets \u2013 where larger balance sheets means lower rates",1846,2432,{fs:21,c:'#b9bdc3',a:'end',len:1555});
txt(svg,"Panel 3: Line shows 5-year centred moving average of US relative annual GDP growth differential against 25 major economies based on trade weights",1846,2474,{fs:21,c:'#b9bdc3',a:'end',len:1578});
</script></body></html>
